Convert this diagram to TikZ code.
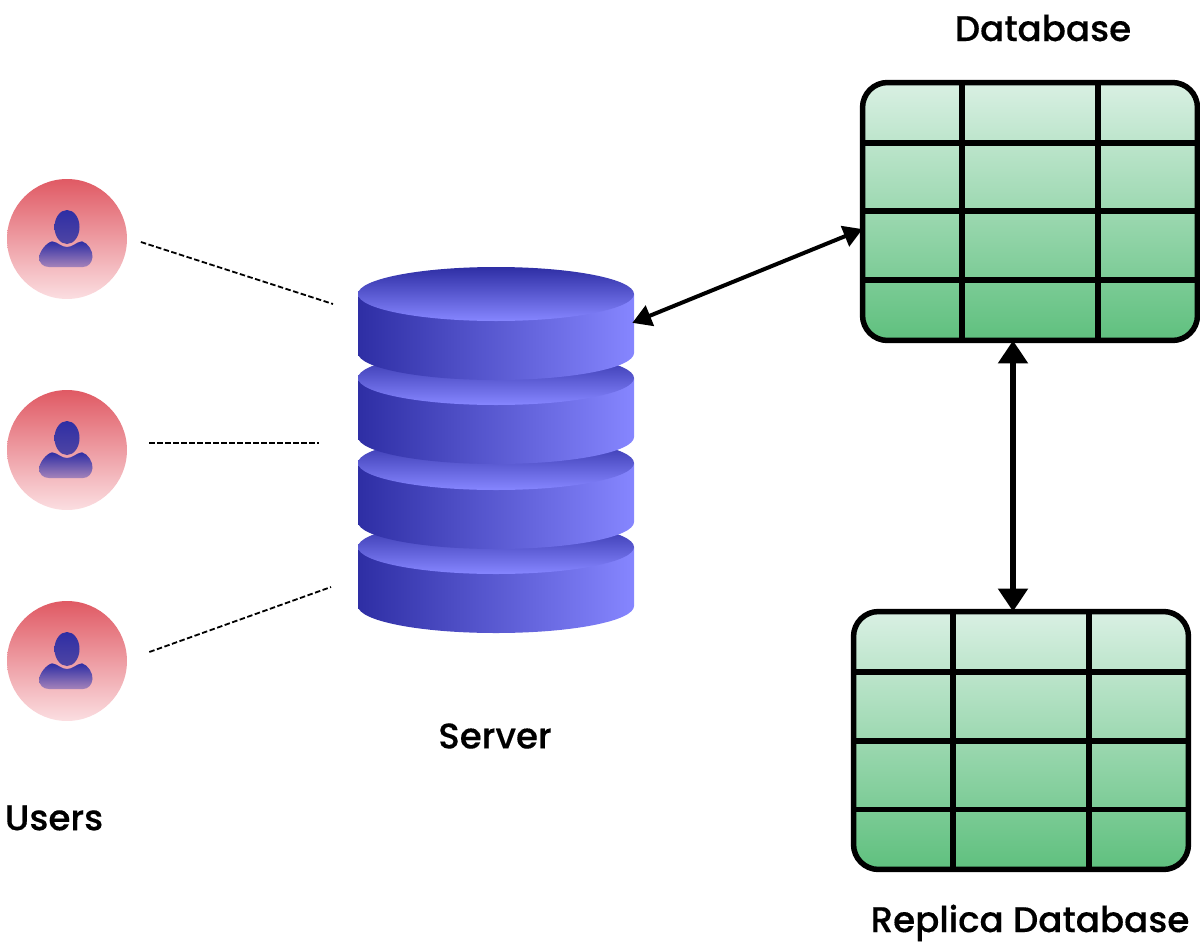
\documentclass[tikz,border=0pt]{standalone}
\usepackage{fontspec}
\setmainfont{Poppins Medium}[FakeBold=0.3]
\usetikzlibrary{arrows.meta}
\definecolor{diskdark}{HTML}{2E2EA4}
\definecolor{disklight}{HTML}{8686FF}
\definecolor{userdark}{HTML}{E05A64}
\definecolor{userlight}{HTML}{FBDEE1}
\definecolor{bodylight}{HTML}{A583BA}
\definecolor{headlight}{HTML}{4F45A4}
\definecolor{tabletop}{HTML}{D9F0E3}
\definecolor{tablebottom}{HTML}{5FC07E}
\begin{document}
\begin{tikzpicture}[x=0.02cm,y=-0.02cm,
  usernode/.style={circle,minimum size=2.4cm,inner sep=0pt,top color=userdark,bottom color=userlight},
  tablebox/.style={draw,line width=0.11cm,rounded corners=0.5cm,minimum width=6.7cm,minimum height=5.16cm,inner sep=0pt,outer sep=0pt,top color=tabletop,bottom color=tablebottom},
  gridline/.style={line width=0.105cm},
  caption/.style={inner sep=0pt,font=\fontsize{20.3}{24}\selectfont},
  dashlink/.style={line width=0.036cm,dash pattern=on 0.11cm off 0.05cm},
  thinlink/.style={{Triangle[length=0.38cm,width=0.43cm]}-{Triangle[length=0.38cm,width=0.43cm]},line width=0.08cm},
  thicklink/.style={{Triangle[length=0.46cm,width=0.58cm]}-{Triangle[length=0.46cm,width=0.58cm]},line width=0.11cm},
  usericon/.pic={
    \path[top color=diskdark,bottom color=bodylight] (-28,18) .. controls (-27,12) and (-21,4) .. (-15,2.3) .. controls (-9,3) and (-6,8) .. (0,8) .. controls (6,8) and (9,3) .. (15,2.3) .. controls (21,4) and (26,12) .. (25.5,18) .. controls (25,24) and (21,28) .. (16,28) -- (-18,28) .. controls (-24,28) and (-28,24) .. (-28,18) -- cycle;
    \path[top color=diskdark,bottom color=headlight] (0,-12) ellipse [x radius=12.5,y radius=17];
  },
  diskpic/.pic={
    \path[left color=diskdark,right color=disklight] (-138,0) -- (-138,59) arc[start angle=180,end angle=0,x radius=138,y radius=27] -- (138,0) -- cycle;
    \path[top color=diskdark,bottom color=disklight] (0,0) ellipse [x radius=138,y radius=27];
  }]
\useasboundingbox (0,0) rectangle (1200,950);

\node(user1) at (67,239) [usernode]{};
\node(user2) at (67,450) [usernode]{};
\node(user3) at (67,661) [usernode]{};
\pic at (user1) {usericon};
\pic at (user2) {usericon};
\pic at (user3) {usericon};
\node(userlabel) at (54,818) [caption]{Users};

\pic at (496,547) {diskpic};
\pic at (496,463) {diskpic};
\pic at (496,378) {diskpic};
\pic at (496,294) {diskpic};
\node(server) at (496,450) [minimum width=5.44cm,minimum height=7.32cm,inner sep=0pt]{};
\node(serverlabel) at (495,736) [caption]{Server};

\node(db) at (1030,211.5) [tablebox]{};
\draw[gridline] (962,80) -- (962,343);
\draw[gridline] (1098,80) -- (1098,343);
\draw[gridline] (863,143) -- (1197,143);
\draw[gridline] (863,211) -- (1197,211);
\draw[gridline] (863,280) -- (1197,280);
\node(dblabel) at (1043,28) [caption]{Database};

\node(replica) at (1021,740.5) [tablebox]{};
\draw[gridline] (953,609.5) -- (953,872);
\draw[gridline] (1089,609.5) -- (1089,872);
\draw[gridline] (854,672) -- (1188,672);
\draw[gridline] (854,741) -- (1188,741);
\draw[gridline] (854,809.5) -- (1188,809.5);
\node(replicalabel) at (1030,923) [caption]{Replica Database};

\coordinate (serverin1) at (333,304);
\coordinate (serverin2) at (319,443);
\coordinate (serverin3) at (331,587);
\coordinate (dblink) at (1013,476);

\draw[dashlink] ([shift={(13.5,3)}]user1.east) -- (serverin1);
\draw[dashlink] ([shift={(22,-7)}]user2.east) -- (serverin2);
\draw[dashlink] ([shift={(22,-9)}]user3.east) -- (serverin3);
\draw[thinlink] (server.43) -- (db.186);
\draw[thicklink] (db.south -| dblink) -- (replica.north -| dblink);
\end{tikzpicture}
\end{document}
